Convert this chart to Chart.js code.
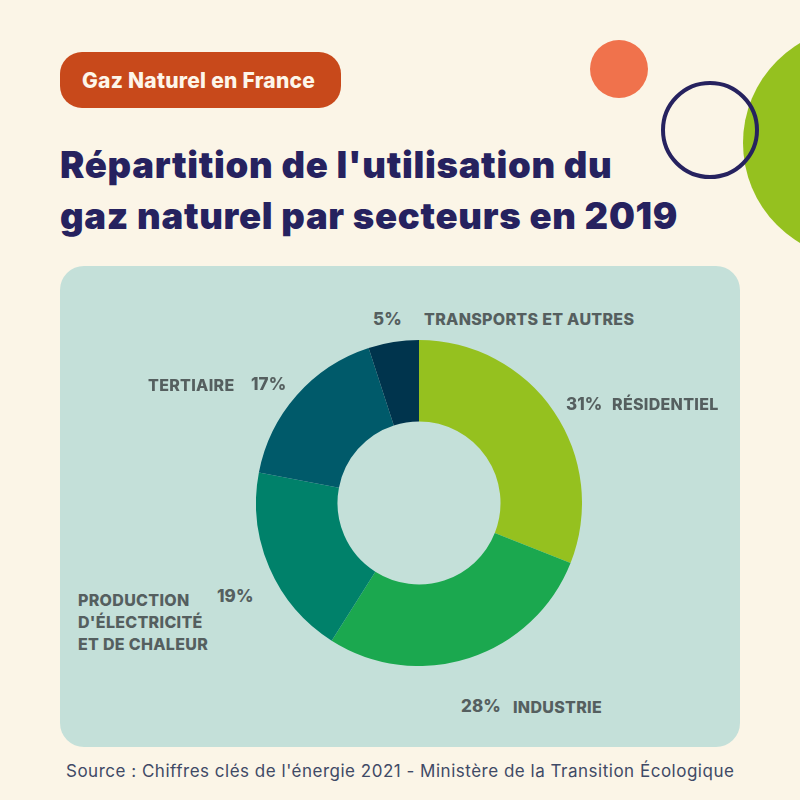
<!DOCTYPE html>
<html lang="fr">
<head>
<meta charset="utf-8">
<title>Gaz naturel en France</title>
<script src="https://cdn.jsdelivr.net/npm/chart.js@4"></script>
<style>
    html, body { margin: 0; padding: 0; }
    body { width: 800px; height: 800px; background: #fbf5e7; position: relative; overflow: hidden; font-family: Inter, sans-serif; }
    .abs { position: absolute; white-space: nowrap; }
    .circle { position: absolute; border-radius: 50%; box-sizing: border-box; }
    #pill { left: 60px; top: 52px; width: 281px; height: 56px; background: #c8491b; border-radius: 22px; }
    #pillText { left: 82px; top: 68px; color: #fdf6ea; font-size: 21px; font-weight: 800; line-height: 26px; letter-spacing: 0.25px; }
    #title { left: 60px; top: 140px; color: #26225f; font-size: 36.5px; font-weight: 900; line-height: 51px; letter-spacing: 0.7px; }
    #panel { left: 60px; top: 266px; width: 680px; height: 481px; background: #c4e0d9; border-radius: 24px; }
    #source { left: 66px; top: 760px; color: #3f4a66; font-size: 17px; line-height: 22px; letter-spacing: 0.51px; }
    #chartBox { position: absolute; left: 255.5px; top: 340px; width: 326px; height: 326px; }
    .label { color: #555f5f; font-size: 16px; font-weight: 800; line-height: 22px; letter-spacing: 0.3px; }
    .pct { font-size: 17px; letter-spacing: 0.1px; }
</style>
</head>
<body>
<div class="circle" style="left:590px;top:40px;width:58px;height:58px;background:#f0724c"></div>
<div class="circle" style="left:743px;top:27px;width:232px;height:232px;background:#95c11f"></div>
<div class="circle" style="left:661px;top:81px;width:98px;height:98px;border:4px solid #26225f"></div>
<div class="abs" id="pill"></div>
<div class="abs" id="pillText">Gaz Naturel en France</div>
<div class="abs" id="title">Répartition de l'utilisation du<br>gaz naturel par secteurs en 2019</div>
<div class="abs" id="panel"></div>
<div id="chartBox"><canvas id="pieChart"></canvas></div>
<div id="labels"></div>
<div class="abs" id="source">Source : Chiffres clés de l'énergie 2021 - Ministère de la Transition Écologique</div>

<script>
const sectors = ['RÉSIDENTIEL', 'INDUSTRIE', "PRODUCTION<br>D'ÉLECTRICITÉ<br>ET DE CHALEUR", 'TERTIAIRE', 'TRANSPORTS ET AUTRES'];
const shares = [31, 28, 19, 17, 5];
const sliceColors = ['#95c11f', '#1ba84f', '#00816a', '#005a6a', '#00344d'];

// where the text goes: [percent x, percent y, name x, name y]
const labelSpots = [
    [566, 393, 612, 393],
    [461, 695, 513, 696],
    [217, 585, 78, 589],
    [251, 373, 148, 374],
    [373, 308, 424, 308]
];

const labelsDiv = document.getElementById('labels');
sectors.forEach((name, i) => {
    const spot = labelSpots[i];
    labelsDiv.innerHTML += `<div class="abs label pct" style="left:${spot[0]}px;top:${spot[1]}px">${shares[i]}%</div>`;
    labelsDiv.innerHTML += `<div class="abs label" style="left:${spot[2]}px;top:${spot[3]}px">${name}</div>`;
});

new Chart(document.getElementById('pieChart').getContext('2d'), {
    type: 'doughnut',
    data: {
        labels: sectors.map(s => s.replace(/<br>/g, ' ')),
        datasets: [{
            data: shares,
            backgroundColor: sliceColors,
            borderWidth: 0
        }]
    },
    options: {
        responsive: true,
        maintainAspectRatio: false,
        animation: false,
        cutout: '50%',
        plugins: {
            legend: { display: false },
            tooltip: { enabled: false }
        }
    }
});
</script>
</body>
</html>
